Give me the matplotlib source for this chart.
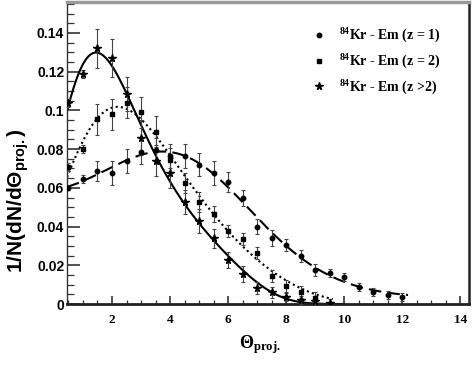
import numpy as np
import matplotlib
matplotlib.use("Agg")
import matplotlib.pyplot as plt
from matplotlib.lines import Line2D
from matplotlib.ticker import MultipleLocator

plt.rcParams['mathtext.fontset'] = 'custom'
plt.rcParams['mathtext.rm'] = 'Liberation Serif:bold'
plt.rcParams['mathtext.bf'] = 'Liberation Serif:bold'
plt.rcParams['mathtext.it'] = 'Liberation Serif:bold:italic'
plt.rcParams['mathtext.sf'] = 'Liberation Sans:bold'

# ---- data ----
x_z1 = [0.5, 1.0, 1.5, 2.0, 2.5, 3.0, 3.5, 4.0, 4.5, 5.0, 5.5, 6.0, 6.5, 7.0, 7.5,
        8.0, 8.5, 9.0, 9.5, 10.0, 10.5, 11.0, 11.5, 12.0]
y_z1 = [0.060, 0.0645, 0.0687, 0.0677, 0.0739, 0.0785, 0.0795, 0.0765, 0.0765, 0.072,
        0.0677, 0.063, 0.0547, 0.040, 0.034, 0.0305, 0.0248, 0.0176, 0.016, 0.014,
        0.0088, 0.0062, 0.0046, 0.0036]
e_z1 = [0.001, 0.002, 0.005, 0.006, 0.006, 0.006, 0.006, 0.006, 0.006, 0.006,
        0.006, 0.005, 0.004, 0.004, 0.004, 0.003, 0.003, 0.003, 0.002, 0.002,
        0.002, 0.002, 0.002, 0.002]

x_z2 = [0.5, 1.0, 1.5, 2.0, 2.5, 3.0, 3.5, 4.0, 4.5, 5.0, 5.5, 6.0, 6.5, 7.0, 7.5,
        8.0, 8.5, 9.0]
y_z2 = [0.0708, 0.080, 0.0955, 0.098, 0.104, 0.099, 0.089, 0.0744, 0.0625, 0.0527,
        0.0465, 0.0377, 0.0336, 0.0263, 0.0145, 0.0093, 0.0062, 0.003]
e_z2 = [0.002, 0.002, 0.008, 0.008, 0.008, 0.008, 0.008, 0.006, 0.005, 0.005,
        0.004, 0.003, 0.003, 0.003, 0.003, 0.003, 0.003, 0.003]

x_z3 = [0.5, 1.0, 1.5, 2.0, 2.5, 3.0, 3.5, 4.0, 4.5, 5.0, 5.5, 6.0, 6.5, 7.0, 7.5,
        8.0, 8.5, 9.0, 9.5]
y_z3 = [0.104, 0.119, 0.132, 0.127, 0.1085, 0.086, 0.074, 0.0677, 0.0527, 0.0429,
        0.034, 0.0227, 0.0155, 0.0083, 0.006, 0.0036, 0.002, 0.0015, 0.0005]
e_z3 = [0.002, 0.002, 0.010, 0.010, 0.009, 0.009, 0.008, 0.008, 0.006, 0.006,
        0.005, 0.004, 0.004, 0.003, 0.003, 0.002, 0.002, 0.002, 0.002]

labels = [r'$^{84}$Kr - Em (z = 1)', r'$^{84}$Kr - Em (z = 2)', r'$^{84}$Kr - Em (z >2)']
xticks = [2, 4, 6, 8, 10, 12, 14]
yticks = [0, 0.02, 0.04, 0.06, 0.08, 0.1, 0.12, 0.14]
ytick_labels = ['0', '0.02', '0.04', '0.06', '0.08', '0.1', '0.12', '0.14']

# ---- figure ----
fig = plt.figure(figsize=(4.74, 3.71), dpi=100)
ax = fig.add_axes([67/474, 67/371, 402/474, 302/371])
ax.set_xlim(0.45, 14.3)
ax.set_ylim(0, 0.156)

def logfit(x, y, deg, x0, x1):
    x = np.asarray(x); y = np.asarray(y)
    c = np.polyfit(x, np.log(y), deg, w=y)
    xx = np.linspace(x0, x1, 300)
    return xx, np.exp(np.polyval(c, xx))

series = [
    (x_z1, y_z1, e_z1, 'o', 3.2, (0, (6, 3)), 12.2),
    (x_z2, y_z2, e_z2, 's', 3.2, (0, (1, 1.5)), 9.6),
    (x_z3, y_z3, e_z3, '*', 5.5, '-', 10.0),
]
for xs, ys, es, m, ms, ls, xend in series:
    ax.errorbar(xs, ys, yerr=es, fmt=m, ms=ms, color='black', ecolor='#444444',
                elinewidth=0.8, capsize=1.5, capthick=0.8, zorder=3)
    xx, yy = logfit(xs, ys, 4, 0.45, xend)
    ax.plot(xx, yy, color='black', lw=1.5, ls=ls, zorder=2)

ax.set_xticks(xticks)
ax.set_xticklabels([str(t) for t in xticks], family='Liberation Serif',
                   fontweight='bold', fontsize=9.5)
ax.set_yticks(yticks)
ax.set_yticklabels(ytick_labels, family='Liberation Sans', fontweight='bold', fontsize=10)
ax.xaxis.set_minor_locator(MultipleLocator(0.5))
ax.yaxis.set_minor_locator(MultipleLocator(0.005))
ax.tick_params(axis='both', which='both', direction='in', color='#333333',
               top=False, right=False)
ax.tick_params(axis='x', which='major', length=6, width=1.2, pad=7)
ax.tick_params(axis='x', which='minor', length=3, width=0.9)
ax.tick_params(axis='y', which='major', length=9, width=1.2, pad=2)
ax.tick_params(axis='y', which='minor', length=5, width=0.9)

ax.spines['left'].set_color('#333333'); ax.spines['left'].set_linewidth(1.0)
ax.spines['bottom'].set_color('#222222'); ax.spines['bottom'].set_linewidth(2.0)
ax.spines['right'].set_color('#222222'); ax.spines['right'].set_linewidth(1.8)
ax.spines['top'].set_color('#999999'); ax.spines['top'].set_linewidth(2.5)

fig.text(260/474, (371-345)/371, r'$\Theta_{\rm proj.}$', fontsize=13,
         ha='center', va='center')
fig.text(18/474, 0.46, r'$\mathsf{1/N(dN/d\Theta_{proj.})}$', fontsize=15,
         rotation=90, ha='center', va='center')

handles = [Line2D([], [], ls='none', marker='o', ms=3.2, color='black'),
           Line2D([], [], ls='none', marker='s', ms=3.2, color='black'),
           Line2D([], [], ls='none', marker='*', ms=5.5, color='black')]
leg = ax.legend(handles, labels, loc='upper left', bbox_to_anchor=(300/474, (371-14)/371),
                bbox_transform=fig.transFigure, frameon=False, handlelength=1.0,
                handletextpad=0.9, labelspacing=0.55,
                prop={'family': 'Liberation Serif', 'weight': 'bold', 'size': 10})

fig.savefig('out.png', dpi=100)
